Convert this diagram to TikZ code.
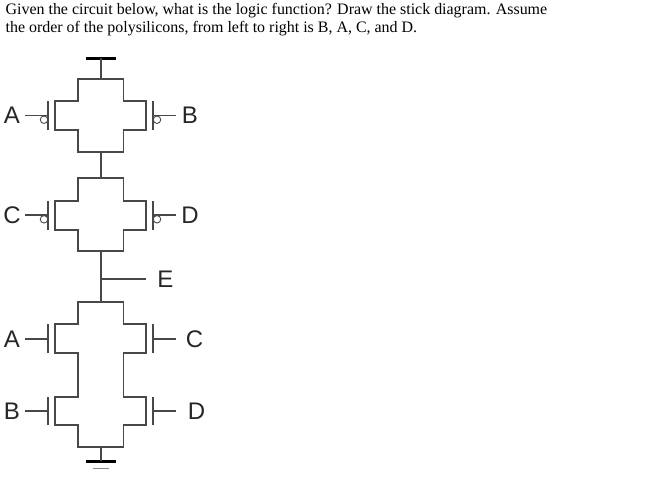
\documentclass[tikz,border=0pt]{standalone}
\usepackage{fontspec}
\setmainfont{Liberation Serif}
\newfontfamily\labelfont{Liberation Sans}
\definecolor{wirecol}{HTML}{484848}
\tikzset{
wire/.style={draw=wirecol,line width=1.2pt},
powerbar/.style={draw=black,line width=3pt},
inlabel/.style={font=\labelfont\fontsize{24}{24}\selectfont,text=black!85,inner sep=0pt},
bubble/.style={circle,draw=wirecol,fill=white,line width=.9pt,minimum size=7.5pt,inner sep=0pt}
}
\begin{document}
\begin{tikzpicture}[x=1pt,y=-1pt,wire]
\useasboundingbox (0,0) rectangle (655,480);
\node[anchor=north west,inner sep=0pt,align=left,font=\fontsize{15.95}{18}\selectfont] (question) at (5,2.5)
{Given the circuit below, what is the logic function? Draw the stick diagram. Assume\\
the order of the polysilicons, from left to right is B, A, C, and D.};
% supply rails
\coordinate (vdd) at (101,58);
\coordinate (gnd) at (101,461);
\draw[powerbar] (86,58)--(116,58);
\draw[powerbar] (86,461)--(116,461);
\draw[draw=black!45,line width=1pt] (93,468)--(109,468);
% upper parallel pairs
\foreach \t/\s/\u/\b/\g/\n in {79/101/130/152/115.5/1,178/201/230/251/215/2}{
\draw (101,\t) -- (78,\t) |- (55,\s) -- (55,\u) -| (78,\b) -- (123.5,\b) |- (146,\u) -- (146,\s) -| (123.5,\t) -- cycle;
\draw (48,\s)--(48,\u);
\draw (153,\s)--(153,\u);
\coordinate (gl\n) at (48,\g);
\coordinate (gr\n) at (153,\g);
}
% lower stacks
\draw (101,302) -- (78,302) |- (55,324) -- (55,353) -| (78,397) -| (55,425) -| (78,447) -- (123.5,447) |- (146,425) -- (146,397) -| (123.5,353) -| (146,324) -| (123.5,302) -- cycle;
\foreach \s/\u/\g/\n in {324/353/339/3,397/425/411/4}{
\draw (48,\s)--(48,\u);
\draw (153,\s)--(153,\u);
\coordinate (gl\n) at (48,\g);
\coordinate (gr\n) at (153,\g);
}
% vertical wires
\coordinate (out) at (101,279);
\coordinate (outend) at (146,279);
\draw (vdd)--(101,79);
\draw (101,152)--(101,178);
\draw (101,251)--(101,302);
\draw (101,447)--(gnd);
\draw (out)--(outend);
% inputs
\foreach \c/\txt/\y/\n in {gl1/A/115.5/a1,gl2/C/215/c1,gl3/A/339/a2,gl4/B/411/b1}{
\node[inlabel] (\n) at (12,\y) {\txt};
\draw (25,\y)--(\c);
}
\foreach \c/\txt/\y/\n/\lx in {gr1/B/115.5/b2/190,gr2/D/215/d1/190,gr3/C/339/c2/194.5,gr4/D/411/d2/196.5}{
\node[inlabel] (\n) at (\lx,\y) {\txt};
\draw (\c)--(176,\y);
}
\node[inlabel] (e) at (165.5,279) {E};
% inverting gates
\node[bubble] (p1) at (44,119.7) {};
\node[bubble] (p2) at (157,119.7) {};
\node[bubble] (p3) at (44,219.3) {};
\node[bubble] (p4) at (157,219.3) {};
\end{tikzpicture}
\end{document}
